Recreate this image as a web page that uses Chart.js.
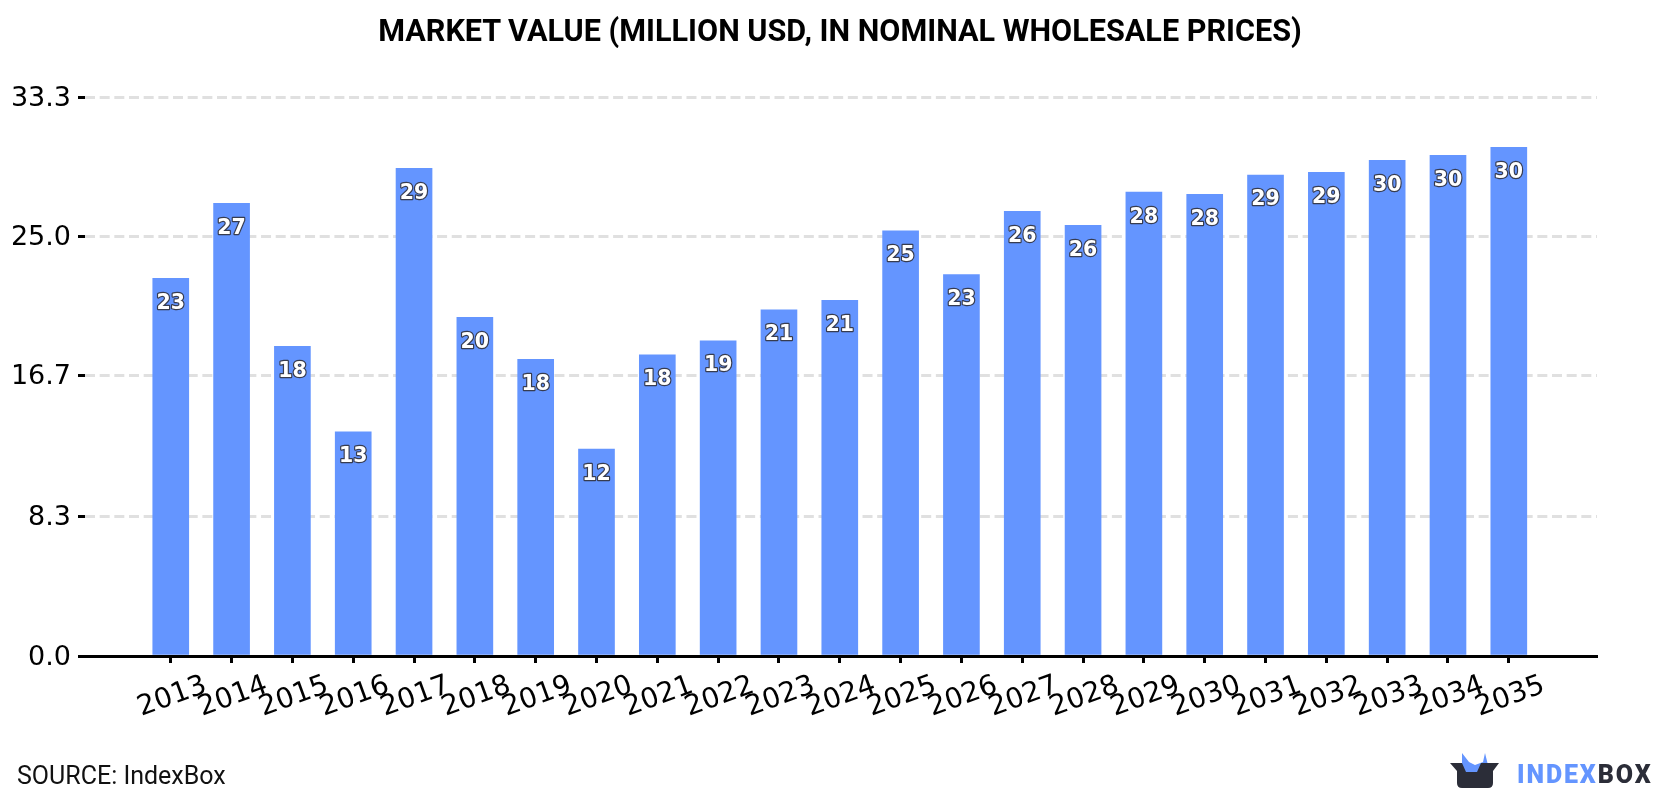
<!DOCTYPE html>
<html>
<head>
<meta charset="utf-8">
<title>Market value</title>
<script src="https://cdn.jsdelivr.net/npm/chart.js@4/dist/chart.umd.min.js"></script>
<style>
  html, body { margin: 0; padding: 0; background: #fff; }
  #stage { position: relative; width: 1680px; height: 800px; overflow: hidden; }
  #title { position: absolute; left: 0; top: 12px; width: 1680px; text-align: center; font: bold 30.6px/38px Roboto, sans-serif; color: #000; }
  #source { position: absolute; left: 17px; top: 761px; font: 25px/30px Roboto, sans-serif; color: #111; }
  #logo { position: absolute; left: 1440px; top: 745px; }
</style>
</head>
<body>
<div id="stage">
  <canvas id="chart" width="1680" height="800"></canvas>
  <div id="title">MARKET VALUE (MILLION USD, IN NOMINAL WHOLESALE PRICES)</div>
  <div id="source">SOURCE: IndexBox</div>
  <svg id="logo" width="240" height="55" viewBox="1440 745 240 55">
    <path d="M1462 753 L1469 762 L1475 765 L1483 762 L1485 753 L1488 765 L1486 775 L1462 775 Z" fill="#6495ff"/>
    <path d="M1450 763 H1462 L1466 772 H1477 L1481 763 H1499 L1493 771 V783 Q1493 788 1488 788 H1462 Q1457 788 1457 783 V771 Z" fill="#2b2d38"/>
    <text x="1517" y="783" font-family="Roboto, sans-serif" font-weight="900" font-size="25" letter-spacing="1.9"><tspan fill="#6495ff">INDEX</tspan><tspan fill="#2b2d38">BOX</tspan></text>
  </svg>
</div>
<script>
const years = [2013, 2014, 2015, 2016, 2017, 2018, 2019, 2020, 2021, 2022, 2023, 2024,
               2025, 2026, 2027, 2028, 2029, 2030, 2031, 2032, 2033, 2034, 2035];
const marketValue = [22.5, 26.96, 18.45, 13.35, 29.05, 20.17, 17.68, 12.32, 17.94, 18.77, 20.62, 21.19,
                     25.33, 22.72, 26.49, 25.65, 27.63, 27.5, 28.65, 28.81, 29.52, 29.82, 30.3];
const valueTicks = [0, 8.3, 16.7, 25, 33.3];

// Writes the rounded value just inside the top of each bar.
const barValueLabels = {
  id: 'barValueLabels',
  afterDatasetsDraw(chart) {
    const ctx = chart.ctx;
    ctx.save();
    ctx.font = 'bold 20.5px "DejaVu Sans"';
    ctx.textAlign = 'center';
    ctx.textBaseline = 'middle';
    ctx.lineJoin = 'round';
    chart.getDatasetMeta(0).data.forEach((bar, i) => {
      const text = String(Math.round(marketValue[i]));
      ctx.lineWidth = 2.4;
      ctx.strokeStyle = 'rgba(50,50,60,0.9)';
      ctx.strokeText(text, bar.x, bar.y + 25);
      ctx.fillStyle = '#fff';
      ctx.fillText(text, bar.x, bar.y + 25);
    });
    ctx.restore();
  }
};

new Chart(document.getElementById('chart'), {
  type: 'bar',
  plugins: [barValueLabels],
  data: {
    datasets: [{
      data: years.map((year, i) => ({ x: year, y: marketValue[i] })),
      backgroundColor: '#6495ff',
      borderWidth: 0,
      barThickness: 36
    }]
  },
  options: {
    responsive: false,
    animation: false,
    layout: { padding: { left: 0, right: 83, top: 97, bottom: 0 } },
    plugins: {
      legend: { display: false },
      tooltip: { enabled: false }
    },
    scales: {
      x: {
        type: 'linear',
        offset: false,
        bounds: 'data',
        min: 2013 - 1.41,
        max: 2035 + 1.45,
        afterBuildTicks(scale) { scale.ticks = years.map(value => ({ value })); },
        afterFit(scale) { scale.height = 144; },
        grid: { offset: false, drawOnChartArea: false, tickColor: '#000', tickWidth: 3, tickLength: 7 },
        border: { display: true, color: '#000', width: 3 },
        ticks: {
          autoSkip: false,
          minRotation: 20,
          maxRotation: 20,
          labelOffset: 35,
          padding: 6,
          color: '#000',
          font: { family: 'DejaVu Sans', size: 28 },
          callback: value => String(value)
        }
      },
      y: {
        min: 0,
        max: 33.3,
        afterBuildTicks(scale) { scale.ticks = valueTicks.map(value => ({ value })); },
        afterFit(scale) { scale.width = 85; },
        grid: {
          color: ctx => ctx.tick && ctx.tick.value === 0 ? 'rgba(0,0,0,0)' : '#e0e0e0',
          lineWidth: 3,
          tickColor: '#000',
          tickWidth: 3,
          tickLength: 7,
          tickBorderDash: []
        },
        border: { display: false, dash: [10, 4.67] },
        ticks: {
          padding: 7,
          labelOffset: 1.5,
          color: '#000',
          font: { family: 'DejaVu Sans', size: 27 },
          callback: value => value.toFixed(1)
        }
      }
    }
  }
});
</script>
</body>
</html>
